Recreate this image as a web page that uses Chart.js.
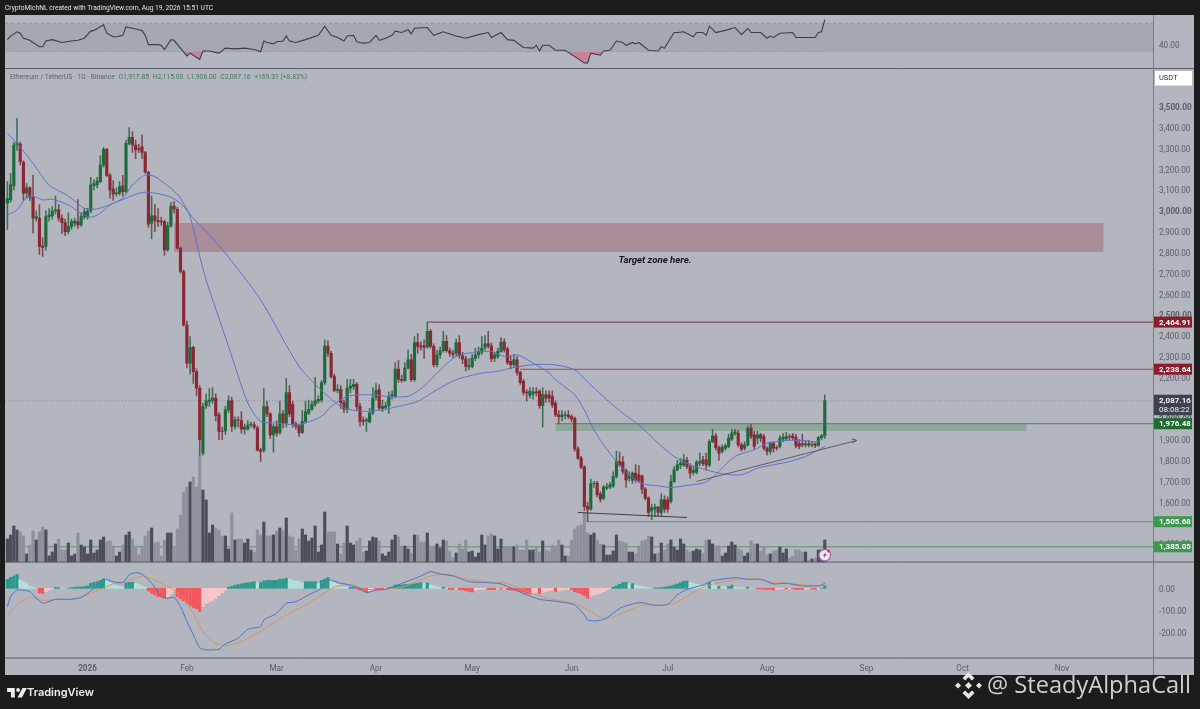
<!DOCTYPE html>
<html>
<head>
<meta charset="utf-8">
<title>ETHUSDT 1D</title>
<script src="https://cdn.jsdelivr.net/npm/chart.js@4/dist/chart.umd.min.js"></script>
<style>
html,body{margin:0;padding:0;background:#1c1c1c;width:1200px;height:709px;overflow:hidden;font-family:Roboto,sans-serif}
#panel{position:absolute;left:5px;top:15px;width:1189px;height:660px;background:#b3b6bf}
canvas{position:absolute;left:0;top:0}
#credit{position:absolute;left:5px;top:3px;font-size:6.7px;line-height:10px;color:#e2e2e2;white-space:nowrap}
#legend{position:absolute;left:10px;top:72px;font-size:6.75px;line-height:10px;color:#5f626d;white-space:nowrap}
#legend b{font-weight:400;color:#3f7a57;margin-left:2px}
#tvlogo{position:absolute;left:7px;top:687px}
#tvname{position:absolute;left:27px;top:685px;font:600 11px/15px Inter,sans-serif;color:#ececec}
#stamp{position:absolute;left:954px;top:671px}
#handle{position:absolute;left:987px;top:668px;font:400 23.6px/32px "Open Sans",sans-serif;color:#cfcfd2;white-space:nowrap}
</style>
</head>
<body>
<div id="panel"></div>
<canvas id="c" width="1200" height="709"></canvas>
<div id="credit">CryptoMichNL created with TradingView.com, Aug 19, 2026 15:51 UTC</div>
<div id="legend">Ethereum / TetherUS · 1D · Binance <b>O1,917.85</b> <b>H2,115.00</b> <b>L1,906.00</b> <b>C2,087.16</b> <b>+169.31 (+8.83%)</b></div>
<svg id="tvlogo" width="20" height="11" viewBox="0 0 36 20"><path fill="#ececec" d="M14 2H0v7h7v10h7V2z"/><circle fill="#ececec" cx="20" cy="5.5" r="3.5"/><path fill="#ececec" d="M28 2h8L27 19h-8z"/></svg>
<div id="tvname">TradingView</div>
<svg id="stamp" width="29" height="29" viewBox="0 0 29 29"><g fill="#e4e4e4"><path d="M14.5 1l6 6-2.6 2.6-3.4-3.4-3.4 3.4L8.500 7z"/><path d="M14.5 28l6-6-2.600-2.600-3.400 3.400-3.400-3.400L8.500 22z"/><path d="M1 14.500l3-3 3 3-3 3z"/><path d="M22 14.500l3-3 3 3-3 3z"/><path d="M14.500 11l3.500 3.500-3.500 3.500-3.500-3.500z"/></g></svg>
<div id="handle">@ SteadyAlphaCall</div>
<script>
// candles, one entry per daily bar, bar 0 is early Dec 2025, bar 255 is Aug 19 2026
const opens = [
3036,3052,3120,3316,3320,3233,3084,3110,3065,2964,
2964,2830,2828,2972,2975,3000,3005,2964,2943,2900,
2924,2940,2948,2932,2970,2970,2999,3120,3124,3140,
3220,3295,3170,3104,3082,3084,3120,3092,3324,3353,
3316,3300,3308,3280,3185,2940,2975,2953,2950,2948,
2812,2927,3023,3007,2820,2708,2451,2267,2344,2227,
2147,1835,2062,2083,2088,2100,2019,1941,1942,2043,
2086,1963,1995,1992,1950,1950,1972,1971,1957,1851,
1848,2059,2024,1923,1963,1935,2024,1979,2126,2070,
1976,1966,1934,1987,2027,2046,2070,2085,2091,2174,
2350,2315,2203,2136,2142,2078,2046,2147,2155,2166,
2060,1993,1990,1985,2028,2103,2140,2050,2055,2063,
2108,2108,2239,2190,2183,2244,2284,2188,2367,2350,
2352,2345,2420,2348,2260,2308,2327,2372,2327,2316,
2316,2367,2303,2287,2250,2252,2292,2308,2320,2345,
2360,2350,2292,2300,2324,2369,2335,2276,2260,2284,
2223,2180,2128,2112,2120,2130,2132,2063,2115,2115,
2107,2075,2019,2011,2015,2019,2011,2003,1856,1811,
1768,1579,1566,1688,1691,1638,1619,1667,1672,1678,
1723,1795,1792,1752,1715,1704,1739,1731,1726,1662,
1619,1558,1566,1576,1550,1611,1611,1603,1699,1755,
1779,1779,1800,1771,1742,1742,1787,1803,1803,1779,
1891,1918,1862,1843,1859,1867,1902,1930,1931,1875,
1859,1875,1955,1923,1907,1923,1915,1859,1843,1883,
1862,1867,1902,1905,1915,1918,1912,1882,1880,1875,
1880,1875,1880,1872,1910,1917.85];
const highs = [
3140,3180,3330,3444,3330,3240,3130,3115,3172,3000,
3030,2870,3000,3010,3020,3070,3030,2980,2960,2990,
2960,2965,3055,2990,3010,3010,3160,3150,3160,3265,
3305,3300,3180,3145,3110,3140,3170,3340,3400,3380,
3340,3320,3365,3285,3190,3070,3030,3010,2970,2955,
2945,3040,3044,3015,2825,2715,2470,2395,2350,2240,
2160,2075,2120,2145,2150,2120,2030,1960,2060,2110,
2105,2010,2010,2035,1975,1990,1985,1985,1965,1860,
2145,2085,2030,1975,1990,2085,2040,2195,2160,2085,
1985,1975,2040,2085,2090,2085,2200,2110,2185,2380,
2375,2325,2215,2165,2160,2090,2190,2190,2190,2175,
2075,2010,2005,2050,2150,2170,2165,2090,2080,2130,
2135,2270,2280,2210,2270,2330,2310,2395,2410,2370,
2380,2464.91,2430,2360,2330,2345,2420,2400,2340,2330,
2385,2400,2320,2300,2290,2310,2340,2345,2395,2400,
2420,2365,2320,2340,2390,2385,2345,2300,2310,2300,
2230,2190,2140,2150,2150,2150,2140,2150,2135,2135,
2135,2085,2040,2040,2035,2040,2020,2010,1865,1820,
1775,1600,1710,1700,1700,1650,1680,1690,1695,1745,
1845,1840,1820,1760,1745,1745,1780,1775,1730,1670,
1625,1590,1590,1580,1640,1630,1625,1730,1770,1800,
1810,1830,1815,1785,1770,1800,1835,1820,1835,1900,
1950,1930,1870,1875,1880,1925,1950,1950,1945,1885,
1890,1965,1975,1940,1940,1930,1925,1865,1890,1890,
1870,1920,1930,1935,1925,1930,1925,1900,1925,1895,
1895,1890,1885,1915,1925,2115];
const lows = [
2910,3040,3100,3290,3220,3050,3060,3050,2892,2950,
2790,2780,2810,2950,2960,2985,2950,2890,2880,2890,
2910,2925,2915,2925,2960,2960,2990,3100,3110,3135,
3210,3165,3060,3050,3070,3075,3070,3085,3316,3280,
3250,3280,3250,3180,2920,2865,2900,2925,2930,2785,
2805,2920,2990,2815,2700,2445,2245,2215,2170,2110,
1825,1825,2050,2060,2075,1990,1900,1900,1925,2030,
1940,1950,1960,1930,1925,1945,1960,1950,1845,1795,
1840,2010,1905,1840,1915,1925,1955,1960,2010,1960,
1950,1915,1930,1980,2020,2040,2060,2075,2080,2165,
2300,2195,2130,2125,2050,2030,2030,2125,2140,2040,
1965,1970,1940,1980,2020,2090,2040,2035,2045,2025,
2095,2100,2175,2175,2180,2240,2180,2180,2315,2330,
2290,2340,2340,2250,2250,2290,2320,2320,2300,2295,
2300,2290,2265,2230,2235,2245,2280,2290,2310,2330,
2340,2275,2275,2290,2320,2320,2260,2240,2250,2210,
2165,2115,2085,2100,2095,2110,2050,1960,2080,2080,
2055,2010,1975,1990,2000,2000,1985,1845,1805,1760,
1560,1505.68,1560,1670,1625,1600,1610,1660,1665,1670,
1715,1770,1735,1670,1700,1690,1695,1695,1640,1610,
1530,1515,1530,1530,1535,1550,1550,1595,1695,1750,
1760,1770,1760,1715,1730,1735,1775,1775,1755,1770,
1885,1850,1800,1835,1850,1860,1895,1920,1865,1845,
1850,1870,1905,1855,1880,1890,1850,1825,1830,1840,
1850,1860,1890,1895,1900,1900,1860,1855,1865,1865,
1865,1865,1862,1868,1900,1906];
const closes = [
3060,3124,3316,3325,3236,3084,3110,3065,2964,2972,
2828,2824,2972,2980,3000,3005,2964,2943,2900,2924,
2948,2950,2932,2972,2995,2999,3124,3130,3143,3220,
3295,3170,3100,3080,3086,3116,3092,3324,3353,3316,
3292,3295,3280,3185,2935,2975,2953,2948,2946,2812,
2927,3023,3007,2820,2708,2451,2267,2344,2227,2147,
1900,2059,2086,2090,2100,2015,1939,1939,2043,2086,
1963,1995,1993,1950,1960,1970,1975,1960,1851,1843,
2059,2024,1923,1963,1931,2024,1979,2126,2024,1976,
1963,1934,1987,2035,2046,2070,2088,2094,2174,2350,
2315,2203,2136,2142,2078,2046,2147,2158,2166,2059,
1988,1988,1996,2028,2100,2137,2052,2060,2063,2108,
2116,2239,2190,2186,2244,2284,2188,2367,2348,2345,
2345,2420,2348,2260,2308,2327,2372,2327,2316,2311,
2367,2303,2287,2252,2256,2292,2308,2324,2340,2360,
2350,2288,2308,2324,2369,2332,2271,2260,2284,2223,
2175,2127,2125,2132,2130,2126,2063,2116,2099,2099,
2067,2019,2011,2019,2019,2011,2000,1856,1811,1768,
1579,1566,1688,1690,1635,1614,1672,1675,1683,1723,
1795,1780,1747,1707,1725,1739,1707,1704,1662,1619,
1550,1572,1576,1550,1611,1566,1566,1699,1755,1779,
1787,1803,1771,1739,1752,1792,1795,1784,1779,1891,
1918,1862,1835,1864,1870,1907,1931,1938,1875,1854,
1875,1955,1915,1867,1923,1907,1859,1843,1883,1859,
1859,1907,1912,1915,1912,1910,1870,1867,1875,1880,
1875,1878,1872,1910,1917.85,2087.16];
const volumes = [
23,27,36,32,30,26,8,17,31,22,
30,35,32,6,10,18,23,12,12,19,
6,8,29,17,15,8,22,9,12,22,
25,20,21,16,6,10,17,27,30,23,
14,7,15,26,31,34,19,20,6,22,
29,29,15,33,47,70,75,80,85,75,
107,72,62,29,37,34,32,26,26,13,
49,22,23,23,19,23,12,10,32,27,
40,26,26,27,31,34,31,44,26,25,
12,23,33,27,21,24,36,10,17,50,
30,30,30,18,8,19,36,19,17,21,
24,10,11,21,25,24,21,8,6,10,
22,27,25,16,16,13,9,27,27,20,
20,29,14,15,18,14,22,21,11,4,
9,18,13,22,10,11,5,9,27,17,
26,28,26,13,23,15,15,15,15,17,
12,12,22,12,12,15,10,21,12,11,
17,16,22,17,6,6,22,33,36,37,
49,29,27,29,22,18,17,7,7,11,
27,21,20,19,10,10,8,16,21,22,
26,25,8,9,19,12,18,22,15,12,
23,18,12,10,11,13,12,9,22,22,
18,16,16,6,9,16,20,17,13,12,
6,9,21,18,18,11,15,7,8,11,
12,15,9,13,4,6,12,12,10,10,
2,3,4,12,12,22];
const macdHist = [
41,50,56,63,38,30,23,11,5,0,
-21,-24,-15,-8,-3,3,3,2,0,0,
3,5,6,6,8,11,23,27,30,36,
42,38,27,18,12,8,6,24,27,27,
23,18,12,6,-12,-23,-30,-38,-39,-45,
-38,-27,-12,-38,-48,-57,-68,-78,-87,-93,
-105,-83,-68,-63,-56,-45,-33,-20,-8,5,
9,14,17,20,23,26,27,30,26,26,
33,36,36,36,36,42,42,45,42,36,
33,30,26,29,30,30,30,21,36,42,
48,38,26,18,14,8,5,5,5,-3,
-8,-12,-18,-11,-5,-5,-5,-5,-3,3,
5,15,15,15,18,18,20,21,23,26,
23,24,15,12,8,5,5,0,-5,-5,
-3,-6,-8,-11,-15,-17,-9,-6,-5,-3,
-5,-6,-6,-3,-3,-2,-6,-8,-9,-11,
-14,-18,-23,-26,-23,-18,-24,-20,-15,-11,
-8,-14,-12,-9,-6,-5,-5,-15,-20,-26,
-33,-45,-38,-30,-26,-23,-15,-9,-2,5,
11,18,26,27,21,21,15,12,9,6,
3,0,2,2,3,5,8,11,15,20,
26,32,33,27,23,18,15,12,11,27,
26,9,9,8,6,8,14,6,5,3,
2,5,2,0,-2,-3,-5,-5,-5,-8,
-5,-3,-2,-3,-2,-2,-5,-5,-5,-3,
-2,-3,-5,-3,0,12];

// moving averages, read at the bends only
const maFastBars = [0,3,6,8,11,14,19,23,26,29,32,36,39,43,46,51,54,57,60,62,63,69,75,79,84,91,98,101,106,113,119,125,130,134,140,145,151,155,159,164,169,171,177,180,183,186,190,194,198,203,207,212,217,219,222,225,228,233,237,243,248,253,255];
const maFastValues = [2980,3004,3065,3071,3052,3055,3028,2988,2969,2988,3028,3060,3124,3172,3164,3108,3060,2972,2780,2668,2620,2348,2076,1988,1980,1972,2012,2060,2108,2116,2108,2108,2156,2220,2300,2319,2324,2300,2308,2268,2220,2187,2115,2043,1947,1875,1795,1731,1688,1678,1670,1680,1691,1707,1747,1795,1827,1851,1883,1896,1896,1891,1920];
const maSlowBars = [0,3,8,13,19,24,28,33,37,41,44,50,54,58,63,68,79,91,100,105,111,117,122,128,134,140,148,153,157,162,166,171,177,182,187,192,197,203,208,213,218,223,229,234,239,244,249,255];
const maSlowValues = [3372,3324,3228,3124,3071,3012,3009,3036,3060,3084,3089,3071,3036,2964,2884,2796,2572,2252,2108,2052,2036,2044,2060,2084,2140,2188,2220,2228,2244,2257,2262,2259,2235,2163,2091,2027,1971,1883,1819,1779,1755,1736,1731,1763,1779,1795,1819,1867];

// macd and signal
const macdBars = [0,1,3,7,9,11,12,15,19,23,27,30,33,36,38,40,42,45,48,50,52,54,56,58,60,62,66,68,72,75,79,80,84,87,90,94,98,100,104,107,110,112,115,118,121,125,129,132,135,139,144,149,154,158,162,166,172,177,180,181,184,187,191,195,198,202,206,209,212,217,220,227,231,235,239,243,248,253,254,255];
const macdValues = [-83,-38,-8,-15,-45,-68,-65,-50,-50,-42,0,41,30,26,61,71,65,23,-38,-45,-41,-83,-151,-212,-270,-280,-277,-253,-227,-186,-174,-144,-114,-68,-61,-30,0,38,23,15,0,-20,-8,-5,11,33,56,76,65,56,30,26,20,-5,-30,-50,-61,-76,-121,-144,-148,-136,-91,-71,-65,-77,-73,-30,-5,15,35,48,41,41,20,23,11,11,15,23];
const signalBars = [0,3,7,11,15,21,25,29,33,37,42,47,52,55,58,61,64,68,73,79,86,93,98,102,107,112,117,123,129,132,136,140,145,151,155,160,165,170,177,181,185,189,193,198,204,208,212,217,222,229,235,239,243,248,254,255];
const signalValues = [-121,-76,-38,-56,-50,-50,-30,-5,20,30,56,30,-8,-45,-114,-197,-242,-261,-242,-197,-129,-76,-30,5,15,-5,-5,5,38,56,64,56,38,29,26,0,-30,-50,-68,-98,-132,-132,-106,-76,-77,-68,-38,5,26,41,41,26,23,15,12,15];

// rsi
const rsiBars = [0,1,3,4,5,7,8,10,11,12,14,17,20,22,24,26,27,30,31,33,34,36,37,39,42,43,44,47,48,49,51,52,54,56,57,58,60,61,63,66,68,71,74,77,79,80,81,83,84,86,87,88,90,93,97,99,101,103,105,106,108,109,111,113,115,116,118,120,121,123,125,126,127,131,133,136,140,143,147,150,151,154,156,158,161,164,165,166,167,169,171,174,177,180,181,182,185,186,188,190,192,193,195,196,197,200,203,204,205,208,209,211,214,215,217,218,219,221,224,227,229,231,232,235,237,238,239,241,245,246,252,253,254,255];
const rsiValues = [47,52,58,56,49,46,43,37,37,45,47,43,45,46,49,59,60,68,56,51,51,53,65,63,60,53,40,40,39,33,47,46,35,24,28,25,19,31,31,28,35,34,35,33,30,45,43,41,44,45,52,45,43,47,53,66,53,50,45,52,53,44,42,43,53,46,49,53,59,57,61,55,63,64,53,58,52,49,54,57,50,57,47,46,36,35,39,31,39,39,32,32,23,14,14,28,25,31,32,45,43,39,43,41,43,32,31,37,35,57,57,58,51,57,57,53,66,57,60,64,54,63,57,57,49,52,50,56,57,50,50,57,58,75];
const rsiLevels = [30, 70];

// levels and drawings on the price pane
const levelValues = [2464.91, 2238.64, 1976.48, 1505.68, 1385.05];
const levelStartBars = [131, 160, 171, 181, -1];
const levelColors = ['#8f4d5a', '#8f4d5a', '#4f7f5e', '#5f9270', '#5f9270'];
const tagBackgrounds = ['#8b1c2b', '#8b1c2b', '#1e6a2f', '#3f9850', '#3f9850'];
const lastPrice = 2087.16;
const targetZone = { top: 2941, bottom: 2802, from: 52, to: 342 };
const greenZone = { top: 1976.48, bottom: 1941, from: 171, to: 318 };
const baseLineBars = [178, 212];
const baseLineValues = [1550, 1526];
const trendBars = [215, 265, 263.5, 265, 263.5];
const trendValues = [1699, 1896, 1904, 1896, 1884];

const priceTicks = [3500,3400,3300,3200,3100,3000,2900,2800,2700,2600,2500,2400,2300,2200,2000,1900,1800,1700,1600,1400];
const boldTicks = [3500, 3000, 2500, 2000];
const macdTicks = [0, -100, -200];
const rsiTicks = [40];
const monthBars = [25,56,84,115,145,176,206,237,268,298,329];
const monthLabels = ['2026','Feb','Mar','Apr','May','Jun','Jul','Aug','Sep','Oct','Nov'];

const UP = '#1f6a3c', DOWN = '#8a2733';
const toXY = (xs, ys) => xs.map((x, i) => ({ x, y: ys[i] }));
const fmt = v => v.toLocaleString('en-US', { minimumFractionDigits: 2, maximumFractionDigits: 2 });
const candleColors = closes.map((c, i) => c >= opens[i] ? UP : DOWN);
const histColors = macdHist.map((v, i) => {
    const prev = i ? macdHist[i - 1] : 0;
    if (v >= 0) return v >= prev ? '#2b9a8c' : '#b4e0dc';
    return v <= prev ? '#f4575a' : '#f9c6cb';
});
const barData = (a, b) => a.map((v, i) => ({ x: i, y: [v, b[i]] }));
const lineOpts = (color, width) => ({ type: 'line', borderColor: color, borderWidth: width, pointRadius: 0, fill: false, tension: 0 });
const edge = { left: -0.75, right: 357.4 };

const datasets = [
    // rsi pane
    { ...lineOpts('#3b3e48', 1.1), label: 'RSI', yAxisID: 'yRsi', order: 1, data: toXY(rsiBars, rsiValues),
      fill: { target: { value: 30 }, above: 'rgba(0,0,0,0)', below: 'rgba(226,70,100,0.45)' } },
    { ...lineOpts('#8d909a', 0.8), label: 'RSI upper', yAxisID: 'yRsi', order: 5, borderDash: [3, 3],
      data: toXY([edge.left, edge.right], [rsiLevels[1], rsiLevels[1]]), fill: { value: rsiLevels[0] }, backgroundColor: '#a5a8b1' },
    { ...lineOpts('#8d909a', 0.8), label: 'RSI lower', yAxisID: 'yRsi', order: 5, borderDash: [3, 3],
      data: toXY([edge.left, edge.right], [rsiLevels[0], rsiLevels[0]]) },

    // price pane, annotations
    { ...lineOpts('rgba(0,0,0,0)', 0), label: 'Target zone', yAxisID: 'yMain', order: 9,
      data: toXY([targetZone.from, targetZone.to], [targetZone.top, targetZone.top]), fill: { value: targetZone.bottom }, backgroundColor: '#a98e99' },
    { ...lineOpts('rgba(0,0,0,0)', 0), label: 'Green zone', yAxisID: 'yMain', order: 9,
      data: toXY([greenZone.from, greenZone.to], [greenZone.top, greenZone.top]), fill: { value: greenZone.bottom }, backgroundColor: '#90a89c' },
    { ...lineOpts('#83868f', 0.8), label: 'Last price', yAxisID: 'yMain', order: 8, borderDash: [1, 2],
      data: toXY([edge.left, edge.right], [lastPrice, lastPrice]) },
    ...levelValues.map((v, i) => ({ ...lineOpts(levelColors[i], i < 2 ? 1.1 : 1), label: 'Level ' + v, yAxisID: 'yMain', order: 8,
      data: toXY([levelStartBars[i], edge.right], [v, v]) })),
    { ...lineOpts('#3d3f49', 1), label: 'Base line', yAxisID: 'yMain', order: 2, data: toXY(baseLineBars, baseLineValues) },
    { ...lineOpts('#5b5f6b', 1), label: 'Trend arrow', yAxisID: 'yMain', order: 2, data: toXY(trendBars, trendValues) },

    // moving averages over candles
    { ...lineOpts('#5f72cc', 1), label: 'MA fast', yAxisID: 'yMain', order: 3, tension: 0.25, data: toXY(maFastBars, maFastValues) },
    { ...lineOpts('#5f72cc', 1), label: 'MA slow', yAxisID: 'yMain', order: 3, tension: 0.25, data: toXY(maSlowBars, maSlowValues) },

    // candles
    { type: 'bar', label: 'Bodies', yAxisID: 'yMain', order: 4, grouped: false, barThickness: 2.5, barPercentage: 1,
      data: barData(opens, closes), backgroundColor: candleColors },
    { type: 'bar', label: 'Wicks', yAxisID: 'yMain', order: 5, grouped: false, barThickness: 0.9, barPercentage: 1,
      data: barData(lows, highs), backgroundColor: candleColors.map(c => c === UP ? '#3d6f50' : '#7d4650') },

    // volume shares the price pane
    { type: 'bar', label: 'Volume', yAxisID: 'yVol', order: 7, grouped: false, barThickness: 2.5, barPercentage: 1,
      data: volumes.map((v, i) => ({ x: i, y: v })), backgroundColor: candleColors.map(c => c === UP ? '#4b4e58' : '#8e919b') },

    // macd pane
    { ...lineOpts('#4b74c9', 1), label: 'MACD', yAxisID: 'yMacd', order: 1, tension: 0.2, data: toXY(macdBars, macdValues) },
    { ...lineOpts('#d8935c', 1), label: 'Signal', yAxisID: 'yMacd', order: 1, tension: 0.2, data: toXY(signalBars, signalValues) },
    { type: 'bar', label: 'Histogram', yAxisID: 'yMacd', order: 2, grouped: false, barThickness: 2.6, barPercentage: 1,
      data: macdHist.map((v, i) => ({ x: i, y: v })), backgroundColor: histColors },
];

const axisFont = { family: 'Roboto, sans-serif', size: 8.2 };
const tickColor = '#5a5d68';
const fixedWidth = s => { s.width = 41; };
const rightAxis = (min, max, weight, ticks, extra) => ({
    position: 'right', stack: 'panes', stackWeight: weight, min, max,
    grid: { display: false, drawTicks: false }, border: { display: false },
    afterFit: fixedWidth,
    afterBuildTicks: s => { s.ticks = ticks.map(value => ({ value })); },
    ticks: { font: axisFont, color: tickColor, padding: 6, labelOffset: 1.5, autoSkip: false, callback: v => fmt(v), ...extra },
});

// pane separators, right hand price tags and small chart notes
const overlay = {
    id: 'overlay',
    afterDraw(chart) {
        const { ctx, scales } = chart;
        const main = scales.yMain, x = scales.x;
        const right = x.right, outer = right + 41;
        ctx.save();
        ctx.strokeStyle = '#5b5e68';
        ctx.lineWidth = 1;
        [scales.yRsi.bottom, main.bottom, scales.yMacd.bottom].forEach(y => {
            ctx.beginPath(); ctx.moveTo(x.left, y); ctx.lineTo(outer, y); ctx.stroke();
        });
        ctx.strokeStyle = '#797c86';
        ctx.beginPath(); ctx.moveTo(right + 0.5, scales.yRsi.top); ctx.lineTo(right + 0.5, x.bottom); ctx.stroke();

        // currency box
        ctx.fillStyle = '#ffffff';
        ctx.fillRect(right + 2, main.top + 2.500, 37, 14.500);
        ctx.fillStyle = '#2c2e36';
        ctx.font = '7.500px Roboto, sans-serif';
        ctx.textBaseline = 'middle';
        ctx.textAlign = 'left';
        ctx.fillText('USDT', right + 6, main.top + 10);

        // note under the target zone
        ctx.fillStyle = '#15161a';
        ctx.font = 'italic 700 9.6px Roboto, sans-serif';
        ctx.textAlign = 'center';
        ctx.fillText('Target zone here.', x.getPixelForValue(202), main.getPixelForValue(2762));

        // last price tag with countdown
        const py = main.getPixelForValue(lastPrice);
        ctx.fillStyle = '#3e4250';
        ctx.fillRect(right + 1, py - 6, 38, 20.500);
        ctx.fillStyle = '#f2f2f4';
        ctx.font = '700 8px Roboto, sans-serif';
        ctx.textAlign = 'left';
        ctx.fillText(fmt(lastPrice), right + 6, py + 0.500);
        ctx.font = '8px Roboto, sans-serif';
        ctx.fillText('08:08:22', right + 6, py + 9.500);

        // level tags
        levelValues.forEach((v, i) => {
            const y = main.getPixelForValue(v);
            ctx.fillStyle = tagBackgrounds[i];
            ctx.fillRect(right + 1, y - 5.500, 38, 11);
            ctx.fillStyle = '#ffffff';
            ctx.font = '700 8px Roboto, sans-serif';
            ctx.fillText(fmt(v), right + 6, y + 0.500);
        });

        // alert badge on the last bar
        const bx = x.getPixelForValue(255), by = main.getPixelForValue(1345);
        ctx.beginPath(); ctx.arc(bx, by, 5.800, 0, Math.PI * 2);
        ctx.fillStyle = '#efe6f0'; ctx.fill();
        ctx.strokeStyle = '#a16bb0'; ctx.lineWidth = 1.300; ctx.stroke();
        ctx.fillStyle = '#7a3f92';
        ctx.beginPath();
        ctx.moveTo(bx + 1.500, by - 3.500); ctx.lineTo(bx - 2, by + 0.500); ctx.lineTo(bx, by + 0.500);
        ctx.lineTo(bx - 1.500, by + 3.500); ctx.lineTo(bx + 2, by - 0.800); ctx.lineTo(bx, by - 0.800);
        ctx.closePath(); ctx.fill();
        ctx.fillStyle = '#d8345a';
        ctx.beginPath(); ctx.arc(bx + 3.800, by - 4, 1.300, 0, Math.PI * 2); ctx.fill();
        ctx.restore();
    }
};

new Chart(document.getElementById('c'), {
    data: { datasets },
    plugins: [overlay],
    options: {
        responsive: false,
        animation: false,
        layout: { padding: { left: 5, top: 15, right: 6, bottom: 34 } },
        plugins: { legend: { display: false }, tooltip: { enabled: false }, title: { display: false } },
        scales: {
            x: {
                type: 'linear', min: edge.left, max: edge.right, offset: false,
                grid: { display: false, drawTicks: false }, border: { display: false },
                afterFit: s => { s.height = 17; },
                afterBuildTicks: s => { s.ticks = monthBars.map(value => ({ value })); },
                ticks: {
                    font: c => ({ ...axisFont, weight: c.tick && c.tick.value === monthBars[0] ? '700' : '400' }),
                    color: tickColor, padding: 6, maxRotation: 0, autoSkip: false,
                    callback: v => monthLabels[monthBars.indexOf(v)],
                },
            },
            yRsi: rightAxis(6.3, 81.7, 53.5, rsiTicks),
            yMain: rightAxis(1312, 3683.6, 493.5, priceTicks, {
                font: c => ({ ...axisFont, weight: c.tick && boldTicks.includes(c.tick.value) ? '700' : '400' }),
            }),
            yMacd: rightAxis(-316.8, 119.5, 96, macdTicks),
            yVol: { display: false, position: 'right', min: -96, max: 547 },
        },
    },
});
</script>
</body>
</html>
